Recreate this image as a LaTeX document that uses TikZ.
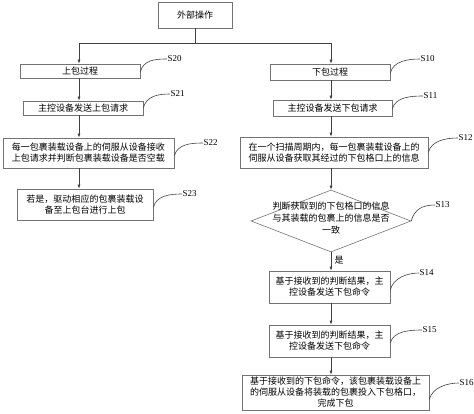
\documentclass[tikz,border=0pt]{standalone}
\usepackage{fontspec}
\setmainfont{Liberation Serif}
\newfontfamily\cjk{Noto Sans CJK SC}
\usetikzlibrary{shapes.geometric,arrows.meta}

\begin{document}
\begin{tikzpicture}[x=1pt,y=-1pt,>={Latex[length=4pt,width=3pt]},
    box/.style={draw=black!55, line width=0.6pt, align=center, inner sep=0pt,
      font=\cjk\fontsize{9}{11}\selectfont},
    lbl/.style={inner sep=0.5pt, font=\fontsize{9}{11}\selectfont},
    link/.style={draw=black!75, line width=0.6pt}]
    \useasboundingbox (0,0) rectangle (474,414);
    \coordinate (colL) at (79,0);
    \coordinate (colR) at (331,0);
    \coordinate (jn) at (195,43);
    % boxes
    \node[box, minimum width=74pt, minimum height=26pt] (ext) at (195,15) {外部操作};
    \node[box, minimum width=120pt, minimum height=14pt] (up) at (80,71) {上包过程};
    \node[box, minimum width=120pt, minimum height=14pt] (upreq) at (83,108) {主控设备发送上包请求};
    \node[box, minimum width=171pt, minimum height=30pt] (upchk) at (88.5,153)
      {每一包裹装载设备上的伺服从设备接收\\上包请求并判断包裹装载设备是否空载};
    \node[box, minimum width=136pt, minimum height=31pt] (updo) at (85,204.5)
      {若是，驱动相应的包裹装载设\\备至上包台进行上包};
    \node[box, minimum width=120pt, minimum height=16pt] (down) at (330,72) {下包过程};
    \node[box, minimum width=119pt, minimum height=16pt] (downreq) at (332.5,108) {主控设备发送下包请求};
    \node[box, minimum width=188pt, minimum height=31pt] (scan) at (334,152.5)
      {在一个扫描周期内，每一包裹装载设备上的\\伺服从设备获取其经过的下包格口上的信息};
    \node[diamond, draw=black!55, line width=0.6pt, inner sep=0pt,
      minimum width=160pt, minimum height=62pt] (judge) at (331,221) {};
    \node[box, draw=none, font=\cjk\fontsize{9}{12}\selectfont] (judgetxt) at (331,218)
      {判断获取到的下包格口的信息\\与其装载的包裹上的信息是否\\一致};
    \node[box, minimum width=121pt, minimum height=32pt] (res) at (329.5,287)
      {基于接收到的判断结果，主\\控设备发送下包命令};
    \node[box, minimum width=121pt, minimum height=32pt] (cmd) at (329.5,341)
      {基于接收到的判断结果，主\\控设备发送下包命令};
    \node[box, minimum width=187pt, minimum height=35pt] (drop) at (335.5,392.5)
      {基于接收到的下包命令，该包裹装载设备上\\的伺服从设备将装载的包裹投入下包格口，\\完成下包};
    % step labels
    \node[lbl, anchor=west] (l20) at (167,59) {S20};
    \node[lbl, anchor=west] (l21) at (170,94) {S21};
    \node[lbl, anchor=west] (l22) at (203,143) {S22};
    \node[lbl, anchor=west] (l23) at (182,194) {S23};
    \node[lbl, anchor=west] (l10) at (420,59) {S10};
    \node[lbl, anchor=west] (l11) at (423,96) {S11};
    \node[lbl, anchor=west] (l12) at (458,138) {S12};
    \node[lbl, anchor=west] (l13) at (435,205) {S13};
    \node[lbl, anchor=west] (l14) at (419,273) {S14};
    \node[lbl, anchor=west] (l15) at (422,330) {S15};
    \node[lbl, anchor=west] (l16) at (459,383) {S16};
    % arrows
    \draw[link] (ext.south) -- (jn);
    \draw[link,->] (jn) -| (up.north -| colL);
    \draw[link,->] (jn) -| (down.north -| colR);
    \draw[link,->] (up.south -| colL) -- (upreq.north -| colL);
    \draw[link,->] (upreq.south -| colL) -- (upchk.north -| colL);
    \draw[link,->] (upchk.south -| colL) -- (updo.north -| colL);
    \draw[link,->] (down.south -| colR) -- (downreq.north -| colR);
    \draw[link,->] (downreq.south -| colR) -- (scan.north -| colR);
    \draw[link,->] (scan.south -| colR) -- (judge.north);
    \draw[link,->] (judge.south) -- node[right, pos=0.45, font=\cjk\fontsize{9}{11}\selectfont] {是}
      (res.north -| colR);
    \draw[link,->] (res.south -| colR) -- (cmd.north -| colR);
    \draw[link,->] (cmd.south -| colR) -- (drop.north -| colR);
    % callouts
    \foreach \b/\l/\s in {up/l20/1, upreq/l21/0, upchk/l22/3, updo/l23/3,
        down/l10/1, downreq/l11/1, scan/l12/0, judge/l13/0,
        res/l14/3, cmd/l15/2, drop/l16/7}
      \draw[link] ([yshift=-\s pt]\b.east) .. controls +(3,-12) and +(-12,0) .. (\l.west);
  \end{tikzpicture}
\end{document}
